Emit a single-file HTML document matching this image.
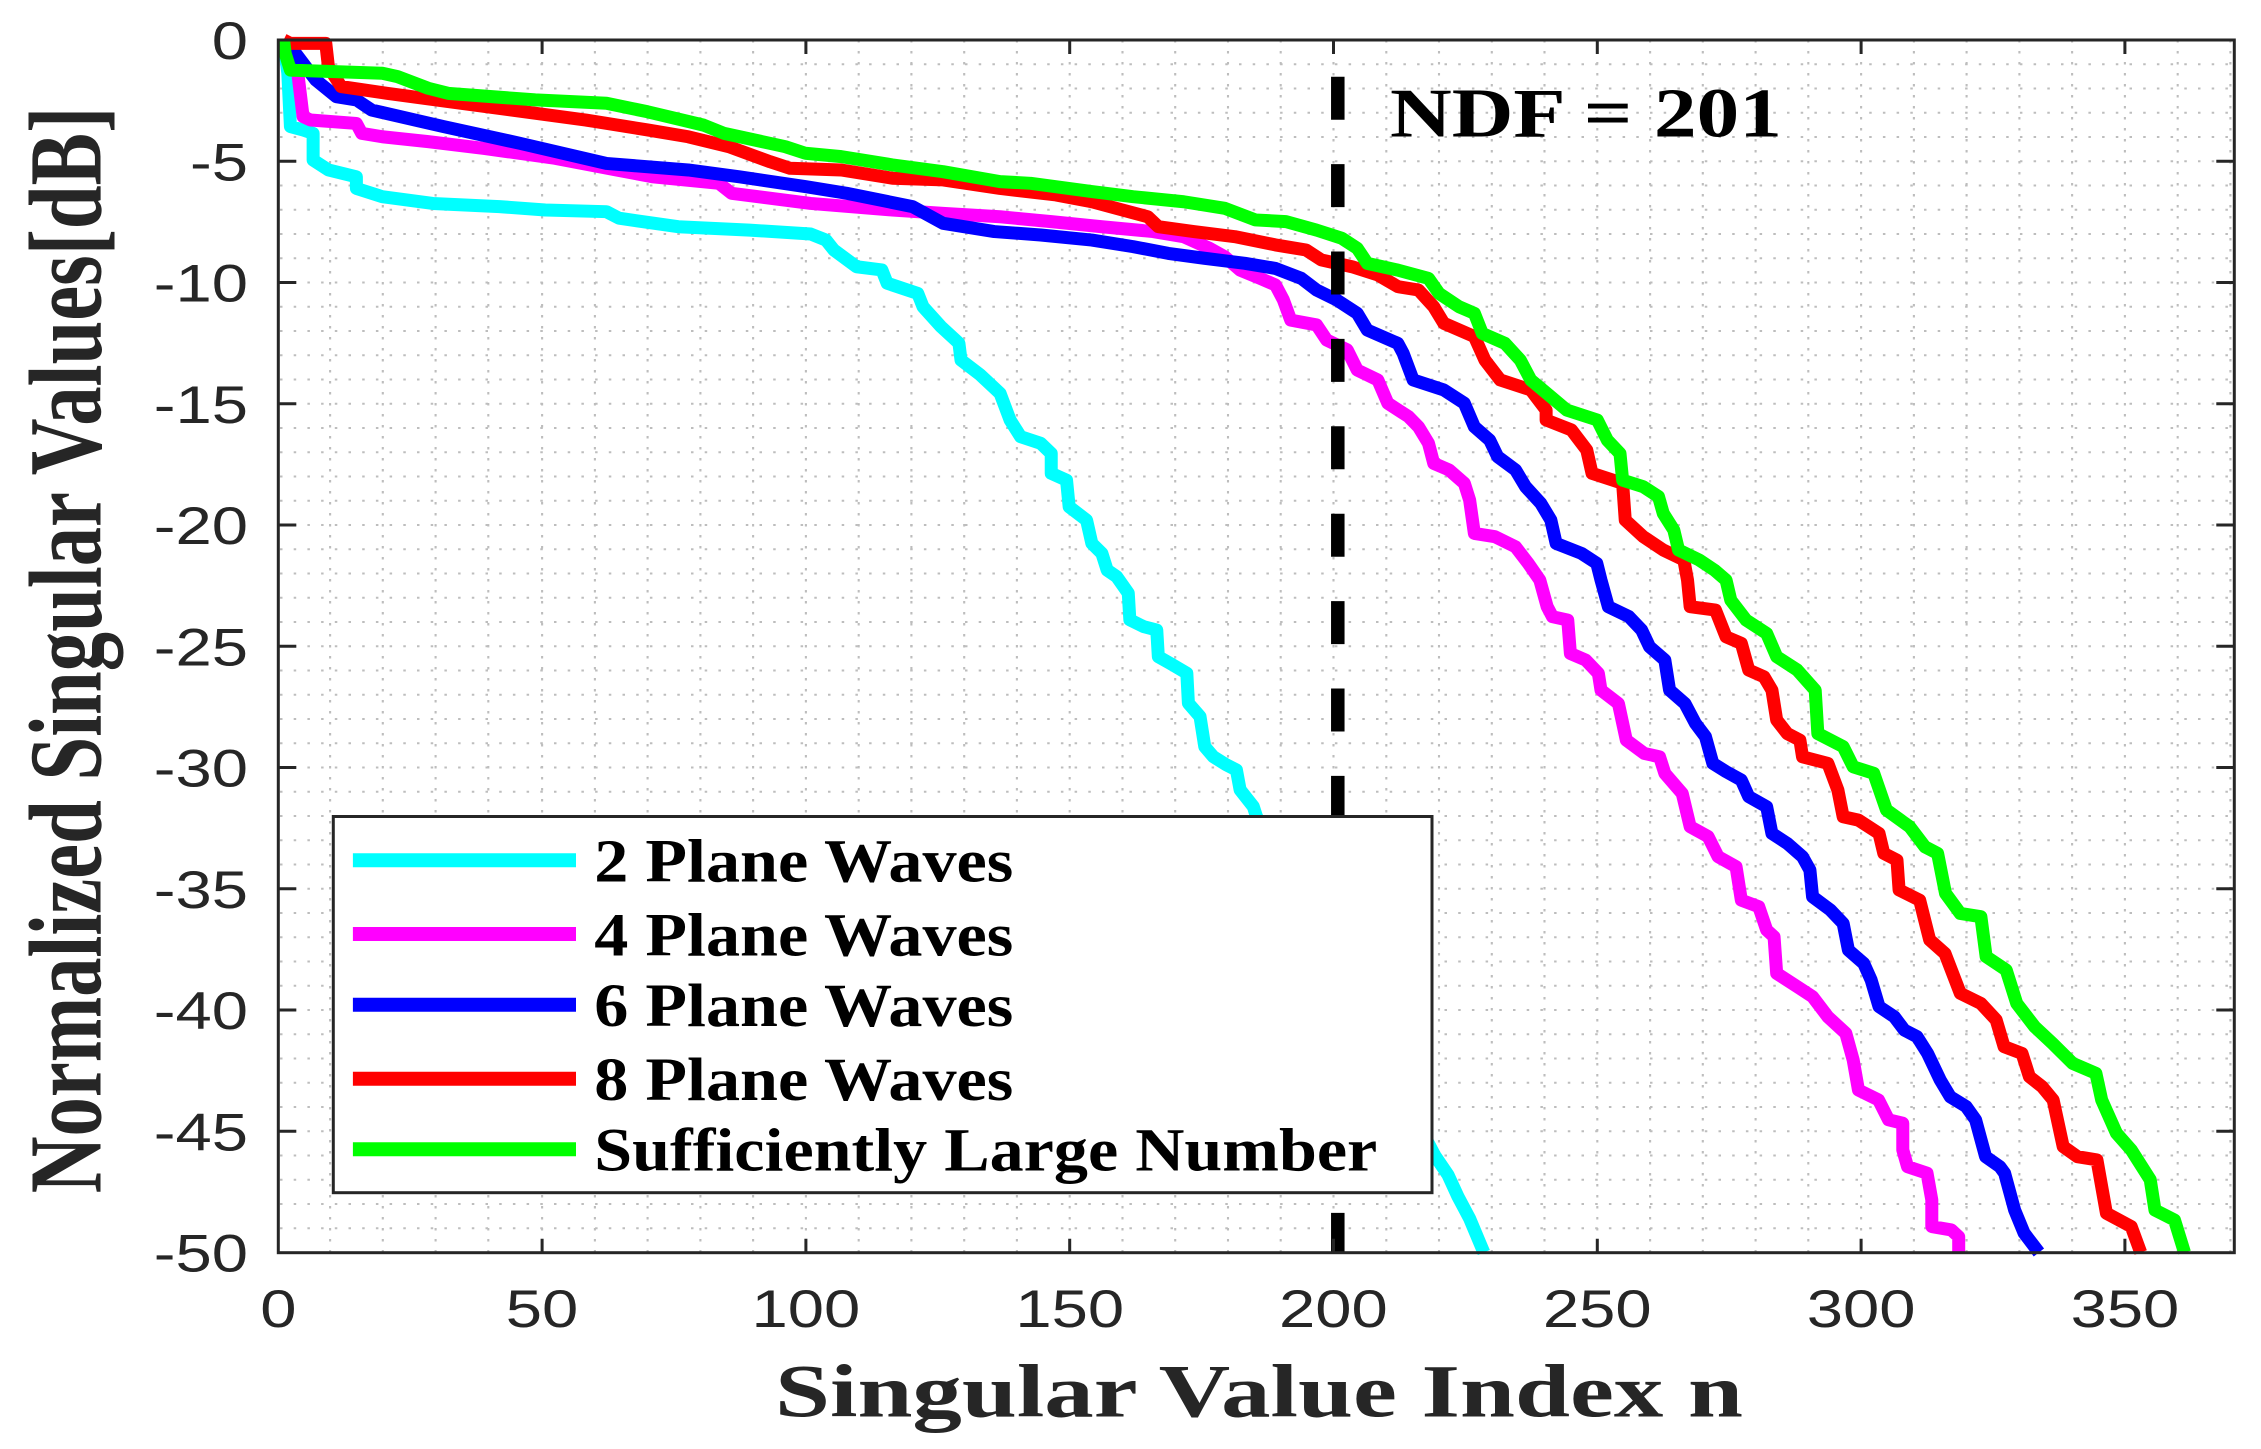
<!DOCTYPE html>
<html>
<head>
<meta charset="utf-8">
<style>
html,body{margin:0;padding:0;background:#fff;}
svg{display:block;}
</style>
</head>
<body>
<svg width="2261" height="1449" viewBox="0 0 2261 1449" xmlns="http://www.w3.org/2000/svg">
<rect x="0" y="0" width="2261" height="1449" fill="#fff"/>

<!-- grid: vertical dotted lines every 10 -->
<path fill="none" stroke="#bdbdbd" stroke-width="2.1" stroke-dasharray="2.5 8.5"
d="M330.1,40V1252.7M382.8,40V1252.7M435.6,40V1252.7M488.3,40V1252.7M542.1,40V1252.7M594.9,40V1252.7M647.6,40V1252.7M700.4,40V1252.7M753.1,40V1252.7M805.9,40V1252.7M858.7,40V1252.7M911.4,40V1252.7M964.2,40V1252.7M1016.9,40V1252.7M1069.7,40V1252.7M1122.5,40V1252.7M1175.2,40V1252.7M1228,40V1252.7M1280.7,40V1252.7M1333.5,40V1252.7M1386.3,40V1252.7M1439,40V1252.7M1491.8,40V1252.7M1544.5,40V1252.7M1597.3,40V1252.7M1650.1,40V1252.7M1702.8,40V1252.7M1755.6,40V1252.7M1808.3,40V1252.7M1861.1,40V1252.7M1913.9,40V1252.7M1966.6,40V1252.7M2019.4,40V1252.7M2072.1,40V1252.7M2124.9,40V1252.7M2177.7,40V1252.7M2230.4,40V1252.7"/>
<!-- grid: horizontal dotted lines every 1 dB -->
<path fill="none" stroke="#bdbdbd" stroke-width="2.1" stroke-dasharray="2.5 11.2"
d="M280,64.25H2233M280,88.5H2233M280,112.75H2233M280,137H2233M280,161.25H2233M280,185.5H2233M280,209.75H2233M280,234H2233M280,258.25H2233M280,282.5H2233M280,306.75H2233M280,331H2233M280,355.25H2233M280,379.5H2233M280,403.75H2233M280,428H2233M280,452.25H2233M280,476.5H2233M280,500.75H2233M280,525H2233M280,549.25H2233M280,573.5H2233M280,597.75H2233M280,622H2233M280,646.25H2233M280,670.5H2233M280,694.75H2233M280,719H2233M280,743.25H2233M280,767.5H2233M280,791.75H2233M280,816H2233M280,840.25H2233M280,864.5H2233M280,888.75H2233M280,913H2233M280,937.25H2233M280,961.5H2233M280,985.75H2233M280,1010H2233M280,1034.25H2233M280,1058.5H2233M280,1082.75H2233M280,1107H2233M280,1131.25H2233M280,1155.5H2233M280,1179.75H2233M280,1204H2233M280,1228.25H2233"/>

<!-- curves in data space -->
<g transform="translate(278.3,40) scale(5.276,-24.25)" fill="none" stroke-width="13" stroke-linejoin="round" stroke-linecap="butt">
<polyline vector-effect="non-scaling-stroke" stroke="#00ffff" points="1,0 1.8,-1.37 2.3,-3.57 4.7,-3.71 6.6,-3.85 6.6,-4.95 9.5,-5.36 14.8,-5.64 14.8,-6.12 19.7,-6.46 29.3,-6.74 41.9,-6.87 50.6,-7.01 62.2,-7.08 64.6,-7.35 75.8,-7.7 89.3,-7.84 100.9,-8 103.8,-8.25 105.3,-8.66 109.6,-9.35 114.4,-9.48 115.4,-10.03 121.2,-10.45 122.2,-11 125.6,-11.82 129,-12.5 129.4,-13.2 133,-13.8 136.8,-14.57 138.7,-15.67 140.7,-16.36 144.5,-16.63 146.5,-17.05 146.5,-17.87 149.4,-18.15 149.9,-19.25 153.2,-19.8 154.2,-20.76 156.1,-21.17 157.1,-21.86 158.9,-22.13 161.1,-22.81 161.4,-23.91 164,-24.19 166.5,-24.33 166.8,-25.43 169,-25.7 172.2,-26.11 172.5,-27.35 174.7,-27.9 175.6,-29.14 177.2,-29.55 179.7,-29.89 181.6,-30.1 182.3,-30.92 184.8,-31.61 185.4,-32.02 190,-34 219.2,-46 221.7,-46.8 223.6,-47.7 225.8,-48.6 228.5,-50"/>
<polyline vector-effect="non-scaling-stroke" stroke="#ff00ff" points="1,0 2,-0.3 3.7,-1.37 4.7,-3.16 6.1,-3.3 14.8,-3.44 15.8,-3.85 19.7,-3.99 28.4,-4.19 39,-4.47 52.5,-4.88 64.1,-5.36 70.9,-5.64 83.5,-5.91 85.9,-6.32 100.9,-6.74 116.4,-7.01 126,-7.15 136.8,-7.29 146.5,-7.49 156.1,-7.7 165.8,-7.9 171.6,-8.11 176.5,-8.59 179.4,-8.94 182.3,-9.49 186.1,-9.83 189,-10.1 190.5,-10.72 191.9,-11.55 196.8,-11.75 198.7,-12.37 202.6,-12.78 204.5,-13.61 208.4,-14.02 210.3,-14.98 214.2,-15.53 216.1,-15.95 218,-16.63 219,-17.46 221.9,-17.73 224.8,-18.28 225.8,-18.97 226.7,-20.35 230.6,-20.48 234.5,-20.9 236.9,-21.58 239.1,-22.27 240.5,-23.37 241.5,-23.78 244.4,-23.92 244.9,-25.3 247.8,-25.57 250.2,-26.12 250.7,-26.81 254,-27.36 255.5,-28.87 258.9,-29.42 261.8,-29.56 262.8,-30.24 266.1,-31.07 267.6,-32.44 271,-32.85 272.9,-33.68 276.3,-34.09 277.3,-35.47 280.6,-35.74 282.1,-36.7 283.5,-36.98 284,-38.49 287.9,-39.04 290.8,-39.45 293.7,-40.28 297.1,-40.96 298.5,-42.06 299.5,-43.3 303.3,-43.71 305.2,-44.53 307.9,-44.67 307.9,-45.77 308.8,-46.46 312.5,-46.73 313.4,-47.83 313.4,-48.93 317.1,-49.07 318.5,-49.35 318.5,-50"/>
<polyline vector-effect="non-scaling-stroke" stroke="#0000ff" points="1,0 2.3,-0.27 4.7,-0.96 7.1,-1.65 11,-2.34 14.8,-2.47 17.7,-2.89 31.3,-3.57 45.8,-4.26 62.2,-5.09 77.7,-5.36 87.4,-5.64 100,-6.05 107.7,-6.32 120.2,-6.87 126,-7.56 135.7,-7.9 144.5,-8.04 154.2,-8.25 162,-8.52 168.7,-8.8 175.5,-9 183.2,-9.21 189,-9.42 193.9,-9.83 196.8,-10.31 200.6,-10.72 204.5,-11.27 206.4,-11.96 212.2,-12.51 213.2,-12.92 215.1,-14.02 220.9,-14.43 224.8,-14.98 226.7,-15.95 229.6,-16.5 231.1,-17.18 234.5,-17.73 236.4,-18.42 239.3,-19.11 241.2,-19.8 242.2,-20.76 247,-21.17 249.9,-21.58 250.7,-22.27 252.1,-23.37 256,-23.78 258.4,-24.33 259.9,-25.02 262.8,-25.57 263.7,-26.81 266.6,-27.36 268.6,-28.18 270.5,-28.73 271.9,-29.83 274.4,-30.17 277.3,-30.52 278.7,-31.2 282.1,-31.62 283.1,-32.72 286,-33.13 288.9,-33.68 290.3,-34.23 290.8,-35.33 294.2,-35.88 296.6,-36.43 297.6,-37.53 300.5,-38.08 301.9,-38.76 303.4,-39.86 306.3,-40.28 308.2,-40.83 310.6,-41.1 312.6,-41.79 315,-42.89 316.9,-43.58 319.9,-43.98 321.7,-44.53 323.6,-46.05 326.3,-46.46 327.2,-46.73 329.1,-48.25 330.9,-49.2 333.7,-50"/>
<polyline vector-effect="non-scaling-stroke" stroke="#ff0000" points="1,0 2.3,-0.14 9,-0.14 9.5,-1.1 11.9,-1.92 20.6,-2.2 32.2,-2.54 46.7,-2.96 58.3,-3.3 70,-3.71 77.7,-3.99 85.4,-4.4 93.2,-5.02 97,-5.29 106.7,-5.36 116.4,-5.7 126,-5.77 136.8,-6.12 147.4,-6.39 154.2,-6.67 160,-7.01 164.8,-7.29 166.8,-7.7 173.5,-7.9 181.3,-8.11 189,-8.45 194.8,-8.66 197.7,-9.07 203.5,-9.35 208.4,-9.69 212.2,-10.17 216.1,-10.31 219,-11 220.9,-11.68 226.7,-12.23 228.7,-13.2 231.6,-14.02 237.4,-14.43 240.3,-15.26 240.3,-15.67 245.1,-16.08 248,-16.91 249,-17.87 254.8,-18.28 255.3,-19.8 258.7,-20.48 262.5,-21.03 266.4,-21.44 267.1,-22.27 267.6,-23.37 272.4,-23.51 274.4,-24.61 277.3,-24.88 278.7,-25.98 281.6,-26.26 283.1,-26.81 284,-28.04 286,-28.6 288.4,-28.87 288.9,-29.56 293.7,-29.83 295.6,-30.93 296.6,-32.03 299.5,-32.17 303.4,-32.72 304.3,-33.54 306.8,-33.82 307.2,-35.05 311.1,-35.47 313,-37.11 315.9,-37.67 318.8,-39.31 322.7,-39.73 325.6,-40.41 327.1,-41.51 330.5,-41.79 331.9,-42.75 334.3,-43.16 336.4,-43.71 338.3,-45.63 341,-46.05 344.7,-46.18 346.5,-48.38 351.2,-48.93 353,-50"/>
<polyline vector-effect="non-scaling-stroke" stroke="#00ff00" points="1,0 1.3,-0.55 2.3,-1.24 19.7,-1.37 22.6,-1.51 28.4,-1.99 32.2,-2.2 48.7,-2.47 62.2,-2.61 70,-2.96 80.6,-3.51 84.5,-3.85 96.1,-4.4 99.9,-4.67 106.7,-4.81 116.4,-5.15 126,-5.43 136.8,-5.84 142.6,-5.91 154.2,-6.25 162,-6.46 171.6,-6.67 179.4,-6.94 185.2,-7.42 191,-7.49 196.8,-7.84 201.6,-8.18 204.5,-8.59 206.4,-9.21 212.2,-9.49 218,-9.83 220,-10.45 223.8,-11 226.7,-11.27 228.2,-12.1 232.5,-12.51 235.4,-13.2 237.4,-14.02 241.2,-14.71 244.2,-15.26 250,-15.67 251.9,-16.5 254.3,-17.05 254.8,-18.15 258.7,-18.42 261.6,-18.83 262.5,-19.52 264.5,-20.21 265.4,-21.03 269.3,-21.44 272.2,-21.86 274.4,-22.27 275.3,-23.1 278.2,-23.92 282.1,-24.47 284,-25.43 287.9,-25.98 291.3,-26.81 291.8,-28.6 296.6,-29.14 298.5,-29.97 302.4,-30.24 304.8,-31.75 309.2,-32.44 312.1,-33.27 314.5,-33.54 316,-35.19 318.8,-36.02 322.7,-36.15 323.7,-37.8 327.5,-38.35 329.5,-39.73 332.9,-40.69 336.3,-41.38 340.1,-42.2 344.5,-42.61 345.6,-43.71 348.4,-45.08 351.2,-45.77 354.8,-47 355.7,-48.25 359.4,-48.66 361.3,-50"/>
</g>

<!-- NDF dashed line -->
<line x1="1337.8" y1="76.7" x2="1337.8" y2="1252.7" stroke="#000" stroke-width="13.5" stroke-dasharray="43 44.4"/>

<!-- axes box -->
<rect x="278.3" y="40" width="1956" height="1212.7" fill="none" stroke="#262626" stroke-width="3"/>
<!-- x ticks bottom and top -->
<path stroke="#262626" stroke-width="3" fill="none"
d="M542.1,1252.7v-14M805.9,1252.7v-14M1069.7,1252.7v-14M1333.5,1252.7v-14M1597.3,1252.7v-14M1861.1,1252.7v-14M2124.9,1252.7v-14M542.1,40v14M805.9,40v14M1069.7,40v14M1333.5,40v14M1597.3,40v14M1861.1,40v14M2124.9,40v14"/>
<!-- y ticks left and right -->
<path stroke="#262626" stroke-width="3" fill="none"
d="M278.3,161.25h18M278.3,282.5h18M278.3,403.75h18M278.3,525h18M278.3,646.25h18M278.3,767.5h18M278.3,888.75h18M278.3,1010h18M278.3,1131.25h18M2234.3,161.25h-18M2234.3,282.5h-18M2234.3,403.75h-18M2234.3,525h-18M2234.3,646.25h-18M2234.3,767.5h-18M2234.3,888.75h-18M2234.3,1010h-18M2234.3,1131.25h-18"/>

<!-- tick labels -->
<g transform="scale(1.23,1)" font-family="'Liberation Sans', Arial, sans-serif" font-size="53" fill="#262626">
<g text-anchor="end">
<text x="201.6" y="59">0</text>
<text x="201.6" y="180.3">-5</text>
<text x="201.6" y="301.5">-10</text>
<text x="201.6" y="422.8">-15</text>
<text x="201.6" y="544">-20</text>
<text x="201.6" y="665.3">-25</text>
<text x="201.6" y="786.5">-30</text>
<text x="201.6" y="907.8">-35</text>
<text x="201.6" y="1029">-40</text>
<text x="201.6" y="1150.3">-45</text>
<text x="201.6" y="1271.5">-50</text>
</g>
<g text-anchor="middle">
<text x="226.3" y="1327">0</text>
<text x="440.7" y="1327">50</text>
<text x="655.2" y="1327">100</text>
<text x="869.7" y="1327">150</text>
<text x="1084.1" y="1327">200</text>
<text x="1298.6" y="1327">250</text>
<text x="1513.1" y="1327">300</text>
<text x="1727.6" y="1327">350</text>
</g>
</g>

<!-- NDF label -->
<text x="1390" y="136.7" font-family="'Liberation Serif', 'Times New Roman', serif" font-weight="bold" font-size="70" fill="#000" textLength="392" lengthAdjust="spacingAndGlyphs">NDF = 201</text>

<!-- legend -->
<rect x="333.3" y="816.5" width="1098.7" height="376.2" fill="#fff" stroke="#262626" stroke-width="3"/>
<g stroke-width="14" fill="none">
<line x1="352.9" y1="860.3" x2="576" y2="860.3" stroke="#00ffff"/>
<line x1="352.9" y1="934" x2="576" y2="934" stroke="#ff00ff"/>
<line x1="352.9" y1="1004.7" x2="576" y2="1004.7" stroke="#0000ff"/>
<line x1="352.9" y1="1078.7" x2="576" y2="1078.7" stroke="#ff0000"/>
<line x1="352.9" y1="1149.3" x2="576" y2="1149.3" stroke="#00ff00"/>
</g>
<g font-family="'Liberation Serif', 'Times New Roman', serif" font-weight="bold" font-size="61" fill="#000">
<text x="594.3" y="881.7" textLength="419" lengthAdjust="spacingAndGlyphs">2 Plane Waves</text>
<text x="594.3" y="955.4" textLength="419" lengthAdjust="spacingAndGlyphs">4 Plane Waves</text>
<text x="594.3" y="1026.1" textLength="419" lengthAdjust="spacingAndGlyphs">6 Plane Waves</text>
<text x="594.3" y="1100.1" textLength="419" lengthAdjust="spacingAndGlyphs">8 Plane Waves</text>
<text x="594.3" y="1170.7" textLength="783" lengthAdjust="spacingAndGlyphs">Sufficiently Large Number</text>
</g>

<!-- axis labels -->
<text x="775" y="1416.7" font-family="'Liberation Serif', 'Times New Roman', serif" font-weight="bold" font-size="75.5" fill="#262626" textLength="968" lengthAdjust="spacingAndGlyphs">Singular Value Index n</text>
<text transform="translate(100.4,650) scale(1.33,1) rotate(-90)" x="0" y="0" text-anchor="middle" font-family="'Liberation Serif', 'Times New Roman', serif" font-weight="bold" font-size="78" fill="#262626" textLength="1086.6" lengthAdjust="spacingAndGlyphs">Normalized Singular Values[dB]</text>
</svg>
</body>
</html>
